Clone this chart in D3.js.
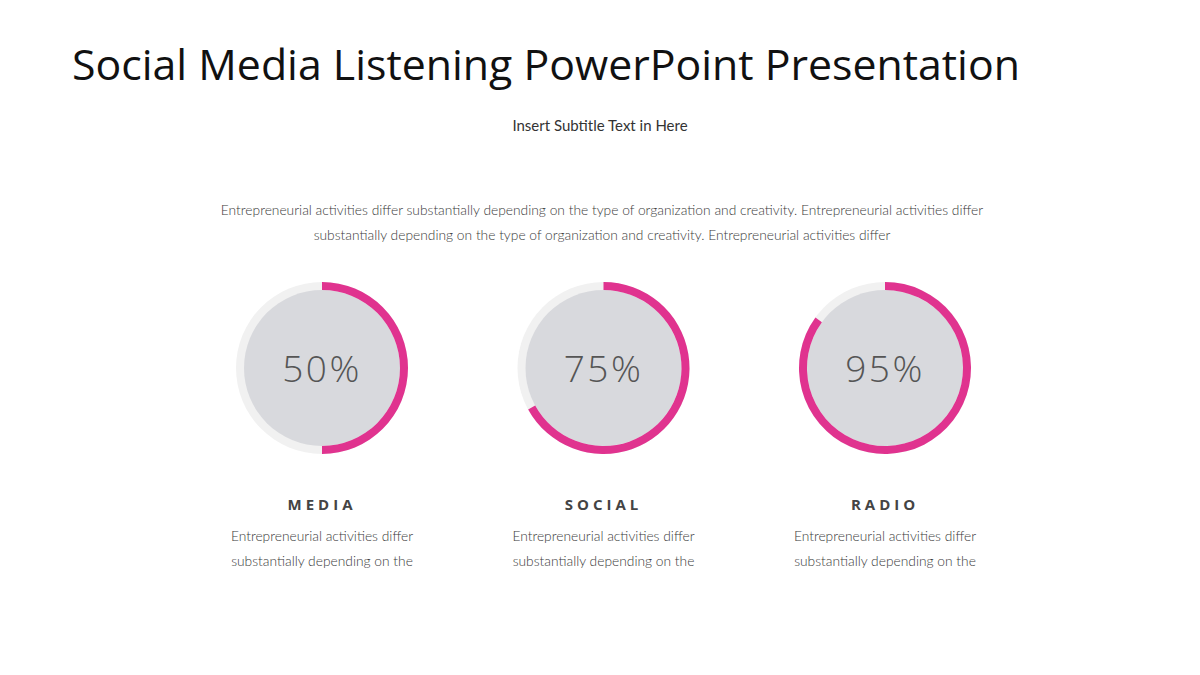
<!DOCTYPE html>
<html>
<head>
<meta charset="utf-8">
<script src="https://cdn.jsdelivr.net/npm/d3@7"></script>
<style>
  html, body { margin: 0; padding: 0; background: #ffffff; }
  svg { display: block; }
</style>
</head>
<body>
<svg id="chart" width="1200" height="675"></svg>
<script>
// ---- data ----
const categories = ["MEDIA", "SOCIAL", "RADIO"];
const percentLabels = ["50%", "75%", "95%"];
// share of the ring that is filled
const arcShare = [0.50, 0.67, 0.85];
const titleText = "Social Media Listening PowerPoint Presentation";
const subtitleText = "Insert Subtitle Text in Here";
const introLines = [
  "Entrepreneurial activities differ substantially depending on the type of organization and creativity. Entrepreneurial activities differ",
  "substantially depending on the type of organization and creativity. Entrepreneurial activities differ"
];
const descLines = ["Entrepreneurial activities differ", "substantially depending on the"];

// ---- drawing ----
const svg = d3.select("#chart");

const title = svg.append("text")
  .attr("x", 72).attr("y", 80)
  .attr("font-family", "'Open Sans', 'Noto Sans', sans-serif")
  .attr("font-size", 42)
  .attr("fill", "#111")
  .text(titleText);
// fit title to reference width
const tw = title.node().getComputedTextLength();
title.attr("font-size", 42 * 948 / tw);

svg.append("text")
  .attr("x", 600).attr("y", 131)
  .attr("text-anchor", "middle")
  .attr("font-family", "Lato, sans-serif")
  .attr("font-size", 15)
  .attr("fill", "#333")
  .text(subtitleText);

svg.append("g").selectAll("text").data(introLines).join("text")
  .attr("x", 602)
  .attr("y", (d, i) => 215 + i * 25)
  .attr("text-anchor", "middle")
  .attr("font-family", "Lato, sans-serif")
  .attr("font-weight", 300)
  .attr("font-size", 13.8)
  .attr("fill", "#3a3a3a")
  .text(d => d);

const x = d3.scalePoint().domain(categories).range([322, 885]);
const cy = 368;
const rOuter = 86, rDisk = 78;

const fill = d3.scaleLinear().domain([0, 1]).range([0, 2 * Math.PI]);

const groups = svg.append("g").selectAll("g").data(categories).join("g")
  .attr("transform", d => `translate(${x(d)},${cy})`);

groups.append("circle").attr("r", rOuter).attr("fill", "#f1f1f1");
groups.append("circle").attr("r", rDisk).attr("fill", "#d8d9dd");

const arc = d3.arc().innerRadius(rDisk).outerRadius(rOuter).startAngle(0);
groups.append("path")
  .attr("d", (d, i) => arc({ endAngle: fill(arcShare[i]) }))
  .attr("fill", "#e0338f");

groups.append("text")
  .attr("y", 14)
  .attr("text-anchor", "middle")
  .attr("font-family", "'Open Sans', sans-serif")
  .attr("font-weight", 300)
  .attr("font-size", 37)
  .attr("letter-spacing", 2.5)
  .attr("fill", "#555")
  .text((d, i) => percentLabels[i]);

groups.append("text")
  .attr("y", 142)
  .attr("text-anchor", "middle")
  .attr("font-family", "'Open Sans', sans-serif")
  .attr("font-weight", 700)
  .attr("font-size", 15)
  .attr("letter-spacing", 4)
  .attr("fill", "#444")
  .text(d => d);

groups.each(function () {
  d3.select(this).selectAll("text.desc").data(descLines).join("text")
    .attr("class", "desc")
    .attr("y", (d, i) => 173 + i * 25)
    .attr("text-anchor", "middle")
    .attr("font-family", "Lato, sans-serif")
    .attr("font-weight", 300)
    .attr("font-size", 13.8)
    .attr("fill", "#3a3a3a")
    .text(d => d);
});
</script>
</body>
</html>
